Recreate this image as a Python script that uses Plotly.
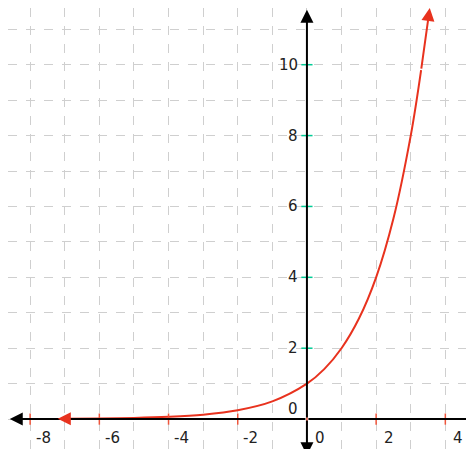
import plotly.graph_objects as go

curve_x = [-7.2, -7, -6, -5, -4, -3, -2, -1, 0, 0.5, 1, 1.5, 2, 2.5, 3, 3.3, 3.55]
curve_y = [0.007, 0.008, 0.016, 0.031, 0.063, 0.125, 0.25, 0.5, 1, 1.41, 2, 2.83, 4, 5.66, 8, 9.85, 11.6]
xtick_vals = [-8, -6, -4, -2, 0, 2, 4]
ytick_vals = [2, 4, 6, 8, 10]

XR = [-8.64, 5.06]
YR = [-1.07, 11.6]

fig = go.Figure()
fig.add_trace(go.Scatter(x=curve_x[1:-1], y=curve_y[1:-1], mode="lines",
                         line=dict(color="#e8321e", width=2, shape="spline"),
                         hoverinfo="skip"))
fig.add_trace(go.Scatter(x=xtick_vals, y=[0] * len(xtick_vals), mode="markers",
                         marker=dict(symbol="line-ns-open", size=8, line=dict(color="black", width=1.5)),
                         hoverinfo="skip"))
fig.add_trace(go.Scatter(x=[0] * len(ytick_vals), y=ytick_vals, mode="markers",
                         marker=dict(symbol="line-ew-open", size=8, line=dict(color="black", width=1.5)),
                         hoverinfo="skip"))

ann = []
def arrow(x0, y0, x1, y1, color, w):
    ann.append(dict(x=x1, y=y1, ax=x0, ay=y0, xref="x", yref="y", axref="x", ayref="y",
                    showarrow=True, arrowhead=2, arrowsize=1.3, arrowwidth=w, arrowcolor=color, text=""))
arrow(0, 0, XR[1] - 0.05, 0, "black", 2)
arrow(0, 0, XR[0] + 0.05, 0, "black", 2)
arrow(0, 0, 0, YR[1] - 0.05, "black", 2)
arrow(0, 0, 0, YR[0] + 0.05, "black", 2)
arrow(curve_x[1], curve_y[1], curve_x[0], curve_y[0], "#e8321e", 2)
arrow(curve_x[-2], curve_y[-2], curve_x[-1], curve_y[-1], "#e8321e", 2)

for v in xtick_vals:
    ann.append(dict(x=v + 0.38, y=-0.22, text=str(v), showarrow=False,
                    xref="x", yref="y", yanchor="top", font=dict(size=15, color="#222")))
ann.append(dict(x=-0.2, y=0.28, text="0", showarrow=False, xref="x", yref="y",
                xanchor="right", yanchor="middle", font=dict(size=15, color="#222")))
for v in ytick_vals:
    ann.append(dict(x=-0.2, y=v, text=str(v), showarrow=False, xref="x", yref="y",
                    xanchor="right", yanchor="middle", font=dict(size=15, color="#222")))

grid = dict(showgrid=True, gridcolor="#cfcfcf", griddash="dash", gridwidth=1,
            zeroline=False, showticklabels=False, ticks="", dtick=1, fixedrange=True)
fig.update_layout(
    width=474, height=449, margin=dict(l=0, r=0, t=0, b=0),
    plot_bgcolor="white", paper_bgcolor="white", showlegend=False,
    xaxis=dict(range=XR, tick0=0, **grid),
    yaxis=dict(range=YR, tick0=0, **grid),
    annotations=ann, font=dict(family="DejaVu Sans"),
)
fig.write_html("out.html")
